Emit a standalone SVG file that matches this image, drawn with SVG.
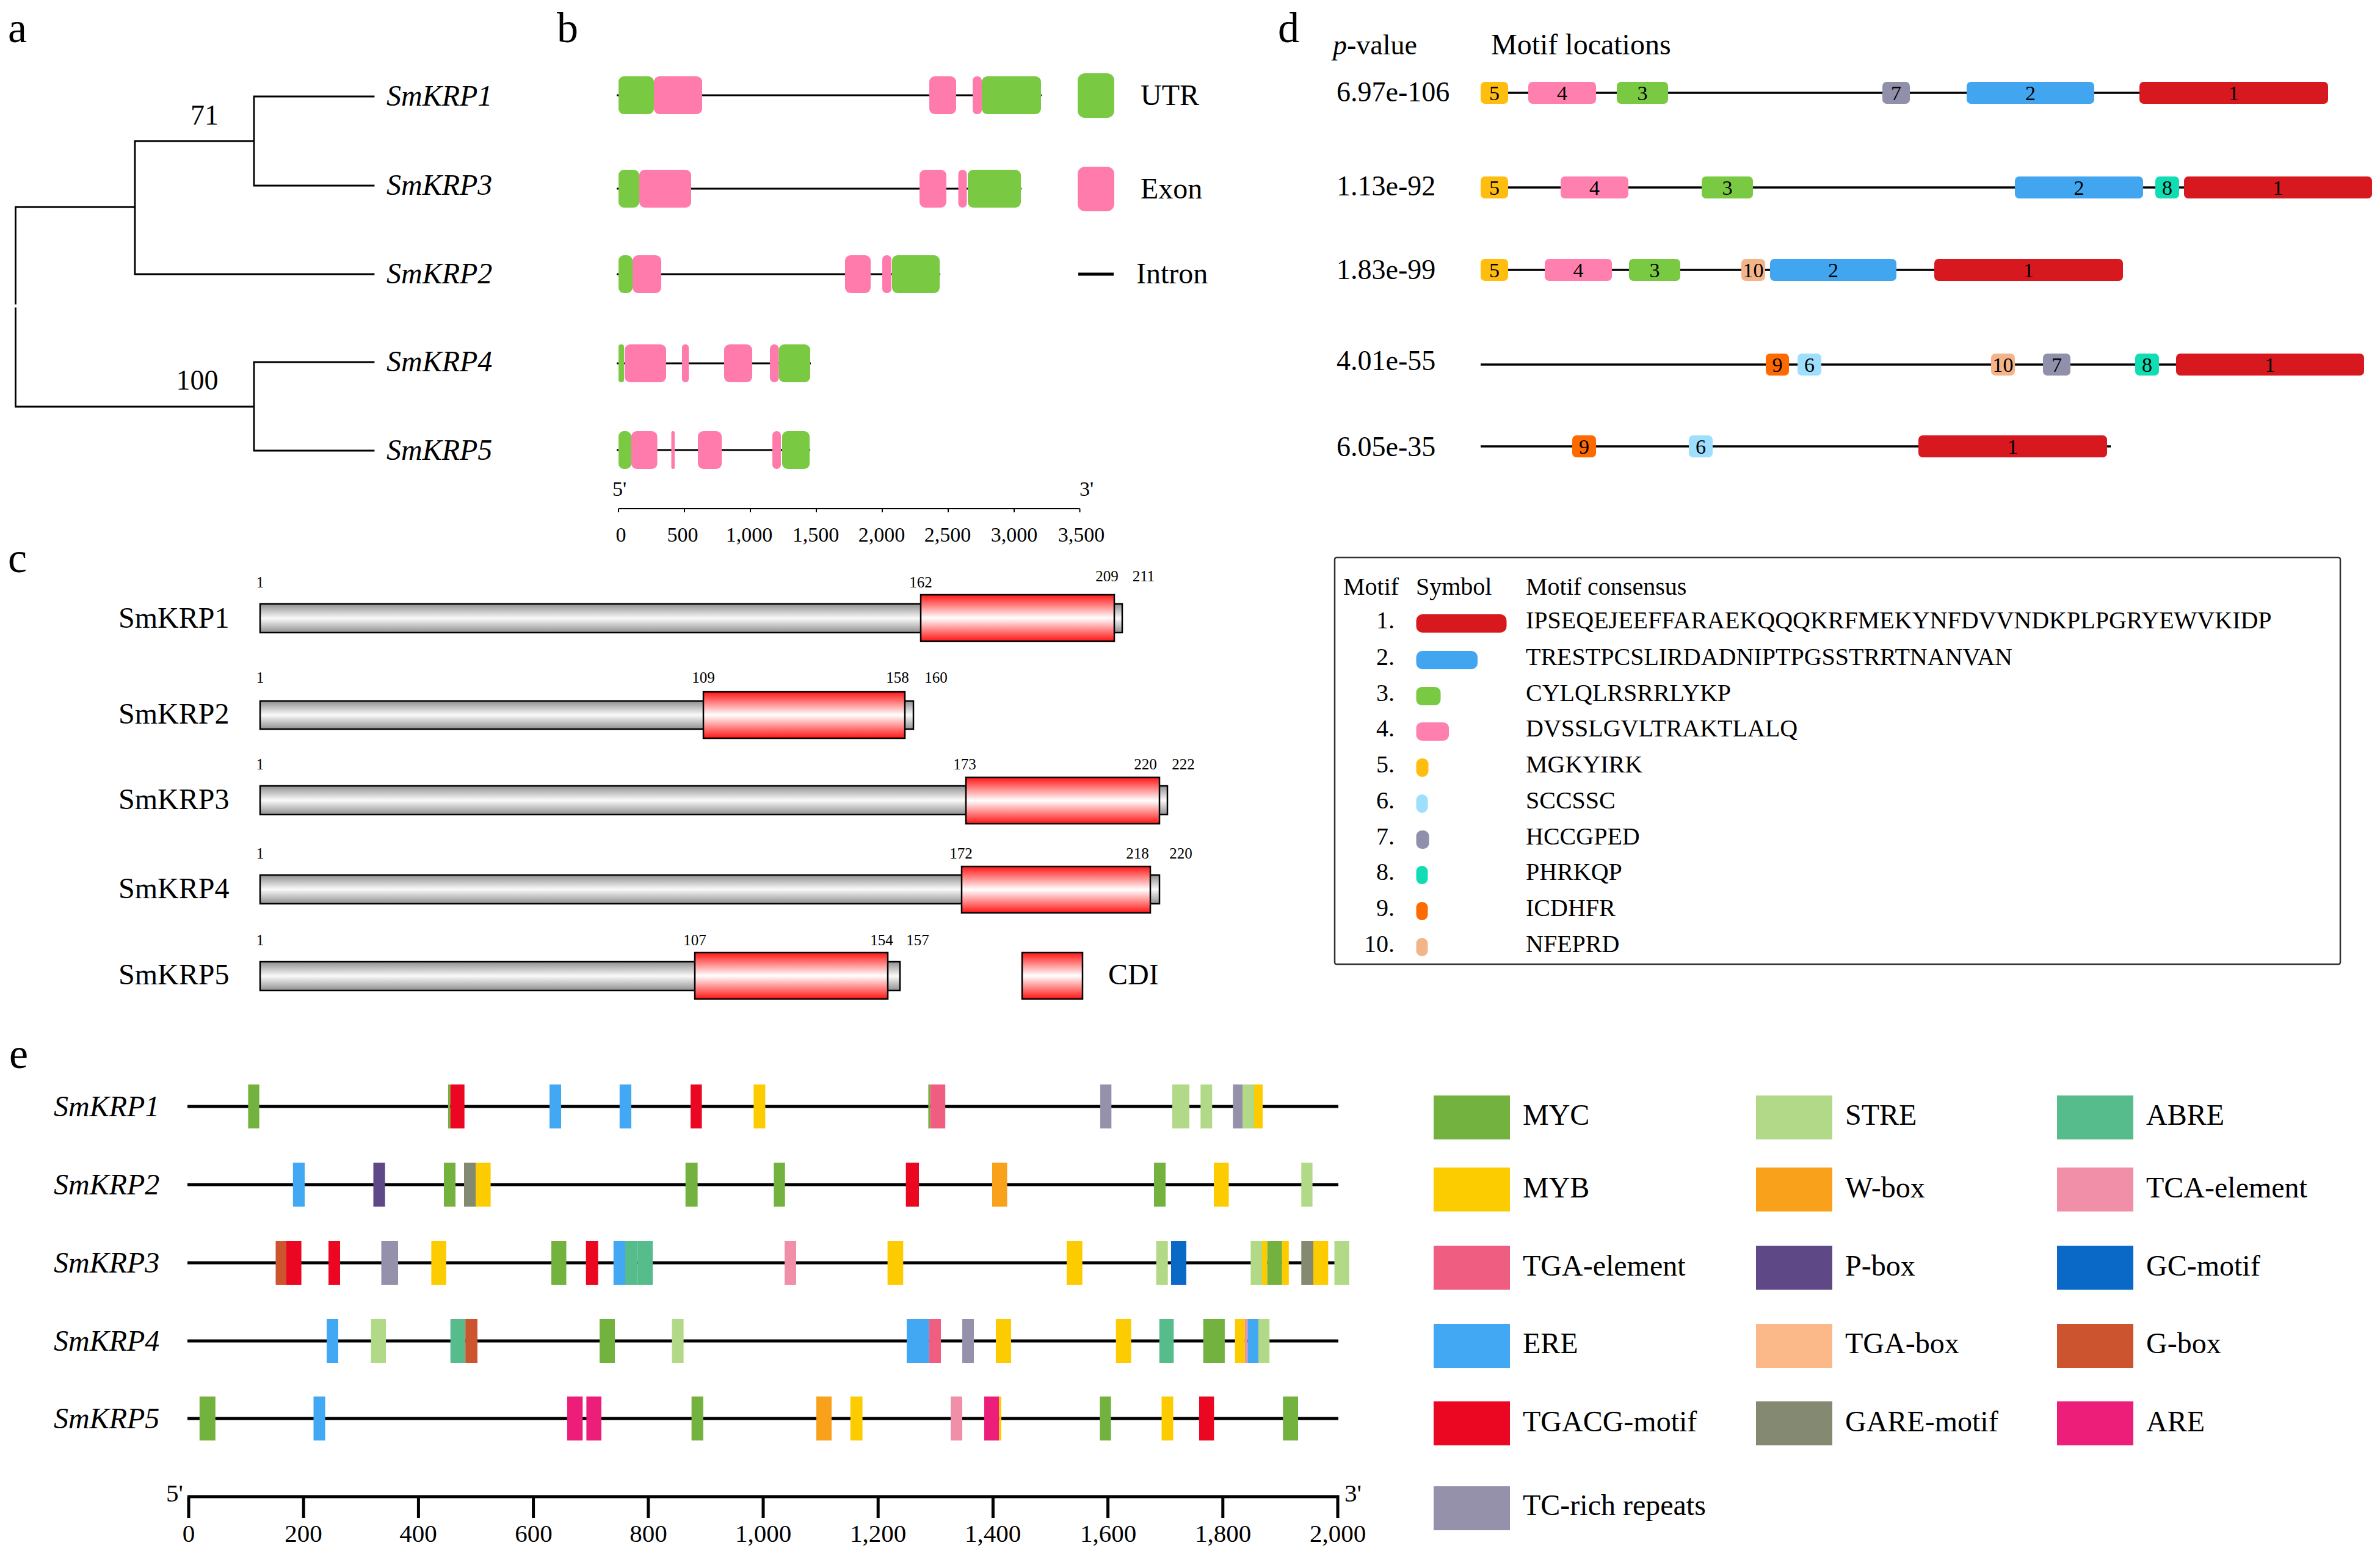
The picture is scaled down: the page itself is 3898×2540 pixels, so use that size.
<svg xmlns="http://www.w3.org/2000/svg" width="3898" height="2540" viewBox="0 0 3898 2540">
<style>
text{font-family:"Liberation Serif","Times New Roman",serif;fill:#000}
.it{font-style:italic}
.pl{font-size:70px}
.f48{font-size:48px}
.f46{font-size:46px}
.f44{font-size:46px}
.f40{font-size:40px}
.f34{font-size:34px}
.f41{font-size:41px}
.f25{font-size:25px}
.mn{font-size:34px;text-anchor:middle}
.mid{text-anchor:middle}
.end{text-anchor:end}
.tree{stroke:#000;stroke-width:2.8;fill:none;stroke-linecap:square}
.intr{stroke:#000;stroke-width:3}
.utr{fill:#7AC943}
.exn{fill:#FF7BAC}
.mline{stroke:#000;stroke-width:3.5}
.m1{fill:#D7181F}.m2{fill:#42A5F0}.m3{fill:#7AC943}.m4{fill:#FF80AE}.m5{fill:#FFBE0F}
.m6{fill:#9DDFFC}.m7{fill:#9190AA}.m8{fill:#10DDB3}.m9{fill:#FF6A00}.m10{fill:#F4B48A}
.bar{fill:url(#gg);stroke:#000;stroke-width:2.5}
.cdi{fill:url(#rg);stroke:#000;stroke-width:2.5}
.trk{stroke:#000;stroke-width:5}
.MYC{fill:#74B23F}.STRE{fill:#B2D987}.ABRE{fill:#57BC8B}.MYB{fill:#FDCC00}.WBOX{fill:#F9A11B}
.TCA{fill:#F08FA7}.TGAE{fill:#EF5E81}.PBOX{fill:#5E4886}.GC{fill:#0A68C7}.ERE{fill:#42A8F3}
.TGAB{fill:#FBB98A}.GBOX{fill:#CC5530}.TGACG{fill:#EB0722}.GARE{fill:#838A71}.ARE{fill:#EC1E79}.TCR{fill:#9591AB}
</style>
<defs>
<linearGradient id="gg" x1="0" y1="0" x2="0" y2="1">
<stop offset="0" stop-color="#909090"/><stop offset="0.5" stop-color="#fafafa"/><stop offset="1" stop-color="#909090"/>
</linearGradient>
<linearGradient id="rg" x1="0" y1="0" x2="0" y2="1">
<stop offset="0" stop-color="#ff1515"/><stop offset="0.5" stop-color="#ffffff"/><stop offset="1" stop-color="#ff1515"/>
</linearGradient>
</defs>
<rect width="3898" height="2540" fill="#fff"/>

<!-- Panel labels -->
<g id="panel-labels">
<text class="pl" x="13" y="69">a</text>
<text class="pl" x="912" y="69">b</text>
<text class="pl" x="2093" y="69">d</text>
<text class="pl" x="13" y="937">c</text>
<text class="pl" x="15" y="1749">e</text>
</g>

<!-- Panel a: tree -->
<g id="tree">
<path class="tree" d="M25.5,339 V497 M25.5,505 V666 M25.5,339 H221 M25.5,666 H416 M221,231 V449 M221,231 H416 M416,158 V304 M416,158 H612 M416,304 H612 M221,449 H612 M416,593 V738 M416,593 H612 M416,738 H612"/>
<text class="f46 mid" x="335" y="204">71</text>
<text class="f46 mid" x="323" y="638">100</text>
<text class="f48 it" x="633" y="173">SmKRP1</text>
<text class="f48 it" x="633" y="319">SmKRP3</text>
<text class="f48 it" x="633" y="464">SmKRP2</text>
<text class="f48 it" x="633" y="608">SmKRP4</text>
<text class="f48 it" x="633" y="753">SmKRP5</text>
</g>

<!-- Panel b: gene structures -->
<g id="gene-SmKRP1">
<line class="intr" x1="1010" y1="156" x2="1706" y2="156"/>
<rect class="utr" x="1013" y="125" width="58" height="62" rx="9"/>
<rect class="exn" x="1071" y="125" width="79" height="62" rx="9"/>
<rect class="exn" x="1522" y="125" width="44" height="62" rx="9"/>
<rect class="exn" x="1593" y="125" width="15" height="62" rx="7"/>
<rect class="utr" x="1608" y="125" width="97" height="62" rx="9"/>
</g>
<g id="gene-SmKRP3">
<line class="intr" x1="1010" y1="309" x2="1673" y2="309"/>
<rect class="utr" x="1013" y="278" width="34" height="62" rx="9"/>
<rect class="exn" x="1047" y="278" width="85" height="62" rx="9"/>
<rect class="exn" x="1506" y="278" width="44" height="62" rx="9"/>
<rect class="exn" x="1569.5" y="278" width="14" height="62" rx="7"/>
<rect class="utr" x="1585" y="278" width="87" height="62" rx="9"/>
</g>
<g id="gene-SmKRP2">
<line class="intr" x1="1010" y1="449" x2="1540" y2="449"/>
<rect class="utr" x="1013" y="418" width="23" height="62" rx="9"/>
<rect class="exn" x="1036" y="418" width="47" height="62" rx="9"/>
<rect class="exn" x="1384" y="418" width="42" height="62" rx="9"/>
<rect class="exn" x="1445" y="418" width="15" height="62" rx="7"/>
<rect class="utr" x="1461" y="418" width="78" height="62" rx="9"/>
</g>
<g id="gene-SmKRP4">
<line class="intr" x1="1010" y1="595" x2="1328" y2="595"/>
<rect class="utr" x="1013" y="564" width="9" height="62" rx="4"/>
<rect class="exn" x="1023" y="564" width="68" height="62" rx="9"/>
<rect class="exn" x="1117" y="564" width="11" height="62" rx="5"/>
<rect class="exn" x="1186" y="564" width="46" height="62" rx="9"/>
<rect class="exn" x="1261" y="564" width="14.5" height="62" rx="7"/>
<rect class="utr" x="1275.5" y="564" width="51.5" height="62" rx="9"/>
</g>
<g id="gene-SmKRP5">
<line class="intr" x1="1010" y1="737" x2="1327" y2="737"/>
<rect class="utr" x="1013" y="706" width="21" height="62" rx="9"/>
<rect class="exn" x="1034" y="706" width="42.5" height="62" rx="9"/>
<rect class="exn" x="1099.5" y="706" width="5.5" height="62" rx="2.5"/>
<rect class="exn" x="1143" y="706" width="39" height="62" rx="9"/>
<rect class="exn" x="1265" y="706" width="14" height="62" rx="7"/>
<rect class="utr" x="1281" y="706" width="45" height="62" rx="9"/>
</g>
<g id="gene-legend">
<rect class="utr" x="1765" y="120" width="60" height="73" rx="12"/>
<text class="f48" x="1868" y="172">UTR</text>
<rect class="exn" x="1765" y="273" width="60" height="73" rx="12"/>
<text class="f48" x="1868" y="325">Exon</text>
<line x1="1766" y1="449" x2="1824" y2="449" stroke="#000" stroke-width="5"/>
<text class="f48" x="1861" y="464">Intron</text>
</g>
<g id="gene-axis">
<path d="M1013,833 H1768.5 M1013,833 V839 M1121,833 V839 M1229,833 V839 M1337,833 V839 M1445,833 V839 M1553,833 V839 M1661,833 V839 M1768.5,833 V839" stroke="#000" stroke-width="2" fill="none"/>
<text class="f34" x="1003" y="812">5'</text>
<text class="f34" x="1768" y="812">3'</text>
<text class="f34 mid" x="1017" y="887">0</text>
<text class="f34 mid" x="1118" y="887">500</text>
<text class="f34 mid" x="1227" y="887">1,000</text>
<text class="f34 mid" x="1336" y="887">1,500</text>
<text class="f34 mid" x="1444" y="887">2,000</text>
<text class="f34 mid" x="1552" y="887">2,500</text>
<text class="f34 mid" x="1661" y="887">3,000</text>
<text class="f34 mid" x="1771" y="887">3,500</text>
</g>

<!-- Panel d: motifs -->
<g id="motif-header">
<text class="f46" x="2183" y="89"><tspan class="it">p</tspan>-value</text>
<text class="f48" x="2442" y="89">Motif locations</text>
</g>
<g id="motif-row1">
<text class="f44" x="2189" y="166">6.97e-106</text>
<line class="mline" x1="2425" y1="152" x2="3813" y2="152"/>
<rect class="m5" x="2425" y="134" width="45" height="36" rx="7"/><text class="mn" x="2447.5" y="164">5</text>
<rect class="m4" x="2503" y="134" width="111" height="36" rx="7"/><text class="mn" x="2558.5" y="164">4</text>
<rect class="m3" x="2648" y="134" width="84" height="36" rx="7"/><text class="mn" x="2690" y="164">3</text>
<rect class="m7" x="3083" y="134" width="45" height="36" rx="7"/><text class="mn" x="3105.5" y="164">7</text>
<rect class="m2" x="3221" y="134" width="209" height="36" rx="7"/><text class="mn" x="3325.5" y="164">2</text>
<rect class="m1" x="3504" y="134" width="309" height="36" rx="7"/><text class="mn" x="3658.5" y="164">1</text>
</g>
<g id="motif-row2">
<text class="f44" x="2189" y="320">1.13e-92</text>
<line class="mline" x1="2425" y1="307" x2="3885" y2="307"/>
<rect class="m5" x="2425" y="289" width="45" height="36" rx="7"/><text class="mn" x="2447.5" y="319">5</text>
<rect class="m4" x="2556" y="289" width="111" height="36" rx="7"/><text class="mn" x="2611.5" y="319">4</text>
<rect class="m3" x="2787" y="289" width="84" height="36" rx="7"/><text class="mn" x="2829" y="319">3</text>
<rect class="m2" x="3300" y="289" width="210" height="36" rx="7"/><text class="mn" x="3405" y="319">2</text>
<rect class="m8" x="3530" y="289" width="39" height="36" rx="7"/><text class="mn" x="3549.5" y="319">8</text>
<rect class="m1" x="3577" y="289" width="308" height="36" rx="7"/><text class="mn" x="3731" y="319">1</text>
</g>
<g id="motif-row3">
<text class="f44" x="2189" y="457">1.83e-99</text>
<line class="mline" x1="2425" y1="442" x2="3477" y2="442"/>
<rect class="m5" x="2425" y="424" width="45" height="36" rx="7"/><text class="mn" x="2447.5" y="454">5</text>
<rect class="m4" x="2530" y="424" width="110" height="36" rx="7"/><text class="mn" x="2585" y="454">4</text>
<rect class="m3" x="2668" y="424" width="84" height="36" rx="7"/><text class="mn" x="2710" y="454">3</text>
<rect class="m10" x="2852" y="424" width="39" height="36" rx="7"/><text class="mn" x="2871.5" y="454">10</text>
<rect class="m2" x="2899" y="424" width="207" height="36" rx="7"/><text class="mn" x="3002.5" y="454">2</text>
<rect class="m1" x="3168" y="424" width="309" height="36" rx="7"/><text class="mn" x="3322.5" y="454">1</text>
</g>
<g id="motif-row4">
<text class="f44" x="2189" y="606">4.01e-55</text>
<line class="mline" x1="2425" y1="597" x2="3872" y2="597"/>
<rect class="m9" x="2892" y="579" width="38" height="36" rx="7"/><text class="mn" x="2911" y="609">9</text>
<rect class="m6" x="2944" y="579" width="39" height="36" rx="7"/><text class="mn" x="2963.5" y="609">6</text>
<rect class="m10" x="3261" y="579" width="39" height="36" rx="7"/><text class="mn" x="3280.5" y="609">10</text>
<rect class="m7" x="3346" y="579" width="45" height="36" rx="7"/><text class="mn" x="3368.5" y="609">7</text>
<rect class="m8" x="3497" y="579" width="39" height="36" rx="7"/><text class="mn" x="3516.5" y="609">8</text>
<rect class="m1" x="3564" y="579" width="308" height="36" rx="7"/><text class="mn" x="3718" y="609">1</text>
</g>
<g id="motif-row5">
<text class="f44" x="2189" y="747">6.05e-35</text>
<line class="mline" x1="2425" y1="731" x2="3457" y2="731"/>
<rect class="m9" x="2575" y="713" width="39" height="36" rx="7"/><text class="mn" x="2594.5" y="743">9</text>
<rect class="m6" x="2766" y="713" width="39" height="36" rx="7"/><text class="mn" x="2785.5" y="743">6</text>
<rect class="m1" x="3142" y="713" width="309" height="36" rx="7"/><text class="mn" x="3296.5" y="743">1</text>
</g>
<g id="motif-legend">
<rect x="2186" y="913" width="1647" height="666" rx="3" fill="none" stroke="#333" stroke-width="2.5"/>
<text class="f40" x="2200" y="974">Motif</text>
<text class="f40" x="2319" y="974">Symbol</text>
<text class="f40" x="2499" y="974">Motif consensus</text>
<text class="f40 end" x="2284" y="1029">1.</text><rect class="m1" x="2319.5" y="1006" width="148" height="30" rx="10"/><text class="f40" x="2499" y="1029">IPSEQEJEEFFARAEKQQQKRFMEKYNFDVVNDKPLPGRYEWVKIDP</text>
<text class="f40 end" x="2284" y="1089">2.</text><rect class="m2" x="2319.5" y="1066" width="100.5" height="30" rx="10"/><text class="f40" x="2499" y="1089">TRESTPCSLIRDADNIPTPGSSTRRTNANVAN</text>
<text class="f40 end" x="2284" y="1148">3.</text><rect class="m3" x="2319.5" y="1125" width="40" height="30" rx="9"/><text class="f40" x="2499" y="1148">CYLQLRSRRLYKP</text>
<text class="f40 end" x="2284" y="1206">4.</text><rect class="m4" x="2319.5" y="1183" width="53.5" height="30" rx="9"/><text class="f40" x="2499" y="1206">DVSSLGVLTRAKTLALQ</text>
<text class="f40 end" x="2284" y="1265">5.</text><rect class="m5" x="2319.5" y="1242" width="20" height="30" rx="9"/><text class="f40" x="2499" y="1265">MGKYIRK</text>
<text class="f40 end" x="2284" y="1324">6.</text><rect class="m6" x="2319.5" y="1301" width="19" height="30" rx="9"/><text class="f40" x="2499" y="1324">SCCSSC</text>
<text class="f40 end" x="2284" y="1383">7.</text><rect class="m7" x="2319.5" y="1360" width="21" height="30" rx="9"/><text class="f40" x="2499" y="1383">HCCGPED</text>
<text class="f40 end" x="2284" y="1441">8.</text><rect class="m8" x="2319.5" y="1418" width="19" height="30" rx="9"/><text class="f40" x="2499" y="1441">PHRKQP</text>
<text class="f40 end" x="2284" y="1500">9.</text><rect class="m9" x="2319.5" y="1477" width="19" height="30" rx="9"/><text class="f40" x="2499" y="1500">ICDHFR</text>
<text class="f40 end" x="2284" y="1559">10.</text><rect class="m10" x="2319.5" y="1536" width="19" height="30" rx="9"/><text class="f40" x="2499" y="1559">NFEPRD</text>
</g>

<!-- Panel c: proteins -->
<g id="protein-SmKRP1">
<text class="f48" x="194" y="1028">SmKRP1</text>
<rect class="bar" x="426" y="989" width="1412" height="47"/>
<rect class="cdi" x="1508" y="974" width="317" height="76"/>
<text class="f25 mid" x="426" y="962">1</text>
<text class="f25 mid" x="1508" y="962">162</text>
<text class="f25 mid" x="1813" y="952">209</text>
<text class="f25 mid" x="1873" y="952">211</text>
</g>
<g id="protein-SmKRP2">
<text class="f48" x="194" y="1185">SmKRP2</text>
<rect class="bar" x="426" y="1148" width="1070" height="46"/>
<rect class="cdi" x="1152" y="1133" width="330" height="76"/>
<text class="f25 mid" x="426" y="1118">1</text>
<text class="f25 mid" x="1152" y="1118">109</text>
<text class="f25 mid" x="1470" y="1118">158</text>
<text class="f25 mid" x="1533" y="1118">160</text>
</g>
<g id="protein-SmKRP3">
<text class="f48" x="194" y="1325">SmKRP3</text>
<rect class="bar" x="426" y="1287" width="1486" height="47"/>
<rect class="cdi" x="1582" y="1273" width="317" height="76"/>
<text class="f25 mid" x="426" y="1260">1</text>
<text class="f25 mid" x="1580" y="1260">173</text>
<text class="f25 mid" x="1876" y="1260">220</text>
<text class="f25 mid" x="1938" y="1260">222</text>
</g>
<g id="protein-SmKRP4">
<text class="f48" x="194" y="1471">SmKRP4</text>
<rect class="bar" x="426" y="1433" width="1473" height="47"/>
<rect class="cdi" x="1575" y="1419" width="309" height="76"/>
<text class="f25 mid" x="426" y="1406">1</text>
<text class="f25 mid" x="1574" y="1406">172</text>
<text class="f25 mid" x="1863" y="1406">218</text>
<text class="f25 mid" x="1934" y="1406">220</text>
</g>
<g id="protein-SmKRP5">
<text class="f48" x="194" y="1612">SmKRP5</text>
<rect class="bar" x="426" y="1575" width="1048" height="47"/>
<rect class="cdi" x="1138" y="1560" width="316" height="76"/>
<text class="f25 mid" x="426" y="1548">1</text>
<text class="f25 mid" x="1138" y="1548">107</text>
<text class="f25 mid" x="1444" y="1548">154</text>
<text class="f25 mid" x="1503" y="1548">157</text>
</g>
<g id="protein-legend">
<rect class="cdi" x="1674" y="1560" width="99" height="76"/>
<text class="f48" x="1815" y="1612">CDI</text>
</g>

<!-- Panel e: promoter elements -->
<g id="promoter-SmKRP1">
<text class="f48 it" x="88" y="1828">SmKRP1</text>
<line class="trk" x1="307" y1="1812" x2="2192" y2="1812"/>
<g transform="translate(0,1776)">
<rect class="MYC" x="406.4" width="18.3" height="72"/>
<rect class="MYC" x="733.9" width="3.6" height="72"/>
<rect class="TGACG" x="737.5" width="23.2" height="72"/>
<rect class="ERE" x="900" width="19" height="72"/>
<rect class="ERE" x="1014.8" width="19.2" height="72"/>
<rect class="TGACG" x="1131" width="18.5" height="72"/>
<rect class="MYB" x="1234.3" width="19.1" height="72"/>
<rect class="MYC" x="1520.4" width="2.9" height="72"/>
<rect class="TGAE" x="1523.3" width="24.9" height="72"/>
<rect class="TCR" x="1802" width="18.3" height="72"/>
<rect class="STRE" x="1920" width="28" height="72"/>
<rect class="STRE" x="1966.3" width="19" height="72"/>
<rect class="TCR" x="2019.3" width="15.7" height="72"/>
<rect class="STRE" x="2035" width="19" height="72"/>
<rect class="MYB" x="2054" width="14" height="72"/>
</g>
</g>
<g id="promoter-SmKRP2">
<text class="f48 it" x="88" y="1956">SmKRP2</text>
<line class="trk" x1="307" y1="1940" x2="2192" y2="1940"/>
<g transform="translate(0,1904)">
<rect class="ERE" x="479.8" width="19.2" height="72"/>
<rect class="PBOX" x="611.5" width="19.1" height="72"/>
<rect class="MYC" x="727" width="19" height="72"/>
<rect class="GARE" x="760" width="19" height="72"/>
<rect class="MYB" x="779" width="24.6" height="72"/>
<rect class="MYC" x="1122.7" width="19.9" height="72"/>
<rect class="MYC" x="1267.3" width="18.4" height="72"/>
<rect class="TGACG" x="1483.7" width="21.3" height="72"/>
<rect class="WBOX" x="1625" width="24.5" height="72"/>
<rect class="MYC" x="1890" width="19" height="72"/>
<rect class="MYB" x="1988" width="24.5" height="72"/>
<rect class="STRE" x="2131.3" width="18.3" height="72"/>
</g>
</g>
<g id="promoter-SmKRP3">
<text class="f48 it" x="88" y="2084">SmKRP3</text>
<line class="trk" x1="307" y1="2068" x2="2192" y2="2068"/>
<g transform="translate(0,2032)">
<rect class="GBOX" x="451.5" width="17.5" height="72"/>
<rect class="TGACG" x="469" width="24.6" height="72"/>
<rect class="TGACG" x="538" width="19" height="72"/>
<rect class="TCR" x="624.5" width="27.5" height="72"/>
<rect class="MYB" x="706.4" width="24.4" height="72"/>
<rect class="MYC" x="903" width="24.5" height="72"/>
<rect class="TGACG" x="959.7" width="19.9" height="72"/>
<rect class="ERE" x="1004.8" width="19.2" height="72"/>
<rect class="ABRE" x="1024" width="20.6" height="72"/>
<rect class="ABRE" x="1044.6" width="24.4" height="72"/>
<rect class="TCA" x="1285" width="19" height="72"/>
<rect class="MYB" x="1453.6" width="25.7" height="72"/>
<rect class="MYB" x="1747" width="25.7" height="72"/>
<rect class="STRE" x="1893.7" width="19" height="72"/>
<rect class="GC" x="1918" width="25" height="72"/>
<rect class="STRE" x="2048.4" width="19.8" height="72"/>
<rect class="MYB" x="2067" width="8.6" height="72"/>
<rect class="MYC" x="2075.6" width="24.2" height="72"/>
<rect class="MYB" x="2099.8" width="11" height="72"/>
<rect class="GARE" x="2131.3" width="19.7" height="72"/>
<rect class="MYB" x="2151" width="24.3" height="72"/>
<rect class="STRE" x="2185.5" width="24.3" height="72"/>
</g>
</g>
<g id="promoter-SmKRP4">
<text class="f48 it" x="88" y="2212">SmKRP4</text>
<line class="trk" x1="307" y1="2196" x2="2192" y2="2196"/>
<g transform="translate(0,2160)">
<rect class="ERE" x="535" width="19" height="72"/>
<rect class="STRE" x="607.6" width="24.4" height="72"/>
<rect class="ABRE" x="737.7" width="24.5" height="72"/>
<rect class="GBOX" x="762.2" width="19.8" height="72"/>
<rect class="MYC" x="982" width="25" height="72"/>
<rect class="STRE" x="1100.5" width="19.1" height="72"/>
<rect class="ERE" x="1485" width="36.8" height="72"/>
<rect class="TGAE" x="1521.8" width="19.2" height="72"/>
<rect class="TCR" x="1576" width="19" height="72"/>
<rect class="MYB" x="1631" width="25" height="72"/>
<rect class="MYB" x="1827.7" width="24.9" height="72"/>
<rect class="ABRE" x="1898.8" width="23.5" height="72"/>
<rect class="MYC" x="1970.7" width="35.2" height="72"/>
<rect class="MYB" x="2022.7" width="16.2" height="72"/>
<rect class="TCA" x="2038.9" width="4.4" height="72"/>
<rect class="ERE" x="2043.3" width="17.7" height="72"/>
<rect class="STRE" x="2061" width="18.2" height="72"/>
</g>
</g>
<g id="promoter-SmKRP5">
<text class="f48 it" x="88" y="2339">SmKRP5</text>
<line class="trk" x1="307" y1="2323" x2="2192" y2="2323"/>
<g transform="translate(0,2287)">
<rect class="MYC" x="326.8" width="26" height="72"/>
<rect class="ERE" x="513.5" width="19.1" height="72"/>
<rect class="ARE" x="929" width="25.3" height="72"/>
<rect class="ARE" x="960.4" width="24.6" height="72"/>
<rect class="MYC" x="1132.6" width="19.2" height="72"/>
<rect class="WBOX" x="1337" width="25" height="72"/>
<rect class="MYB" x="1392.8" width="19.8" height="72"/>
<rect class="TCA" x="1557" width="19" height="72"/>
<rect class="ARE" x="1612" width="24.3" height="72"/>
<rect class="MYB" x="1636.3" width="3.7" height="72"/>
<rect class="MYC" x="1801.3" width="18.3" height="72"/>
<rect class="MYB" x="1902.5" width="19" height="72"/>
<rect class="TGACG" x="1964" width="24.3" height="72"/>
<rect class="MYC" x="2101.2" width="24.8" height="72"/>
</g>
</g>
<g id="promoter-axis">
<path d="M307,2451 H2193.5 M309,2451 V2486 M497.2,2451 V2486 M685.4,2451 V2486 M873.6,2451 V2486 M1061.8,2451 V2486 M1250,2451 V2486 M1438.2,2451 V2486 M1626.4,2451 V2486 M1814.6,2451 V2486 M2002.8,2451 V2486 M2191,2451 V2486" stroke="#000" stroke-width="5" fill="none"/>
<text class="f41" x="272" y="2459">5'</text>
<text class="f41" x="2202" y="2459">3'</text>
<text class="f41 mid" x="309" y="2525">0</text>
<text class="f41 mid" x="497" y="2525">200</text>
<text class="f41 mid" x="685" y="2525">400</text>
<text class="f41 mid" x="874" y="2525">600</text>
<text class="f41 mid" x="1062" y="2525">800</text>
<text class="f41 mid" x="1250" y="2525">1,000</text>
<text class="f41 mid" x="1438" y="2525">1,200</text>
<text class="f41 mid" x="1626" y="2525">1,400</text>
<text class="f41 mid" x="1815" y="2525">1,600</text>
<text class="f41 mid" x="2003" y="2525">1,800</text>
<text class="f41 mid" x="2191" y="2525">2,000</text>
</g>
<g id="element-legend">
<rect class="MYC" x="2348" y="1794" width="125" height="72"/><text class="f48" x="2494" y="1842">MYC</text>
<rect class="STRE" x="2876" y="1794" width="125" height="72"/><text class="f48" x="3022" y="1842">STRE</text>
<rect class="ABRE" x="3369" y="1794" width="125" height="72"/><text class="f48" x="3515" y="1842">ABRE</text>
<rect class="MYB" x="2348" y="1912" width="125" height="72"/><text class="f48" x="2494" y="1961">MYB</text>
<rect class="WBOX" x="2876" y="1912" width="125" height="72"/><text class="f48" x="3022" y="1961">W-box</text>
<rect class="TCA" x="3369" y="1912" width="125" height="72"/><text class="f48" x="3515" y="1961">TCA-element</text>
<rect class="TGAE" x="2348" y="2040" width="125" height="72"/><text class="f48" x="2494" y="2089">TGA-element</text>
<rect class="PBOX" x="2876" y="2040" width="125" height="72"/><text class="f48" x="3022" y="2089">P-box</text>
<rect class="GC" x="3369" y="2040" width="125" height="72"/><text class="f48" x="3515" y="2089">GC-motif</text>
<rect class="ERE" x="2348" y="2168" width="125" height="72"/><text class="f48" x="2494" y="2216">ERE</text>
<rect class="TGAB" x="2876" y="2168" width="125" height="72"/><text class="f48" x="3022" y="2216">TGA-box</text>
<rect class="GBOX" x="3369" y="2168" width="125" height="72"/><text class="f48" x="3515" y="2216">G-box</text>
<rect class="TGACG" x="2348" y="2295" width="125" height="72"/><text class="f48" x="2494" y="2344">TGACG-motif</text>
<rect class="GARE" x="2876" y="2295" width="125" height="72"/><text class="f48" x="3022" y="2344">GARE-motif</text>
<rect class="ARE" x="3369" y="2295" width="125" height="72"/><text class="f48" x="3515" y="2344">ARE</text>
<rect class="TCR" x="2348" y="2434" width="125" height="72"/><text class="f48" x="2494" y="2481">TC-rich repeats</text>
</g>
</svg>
